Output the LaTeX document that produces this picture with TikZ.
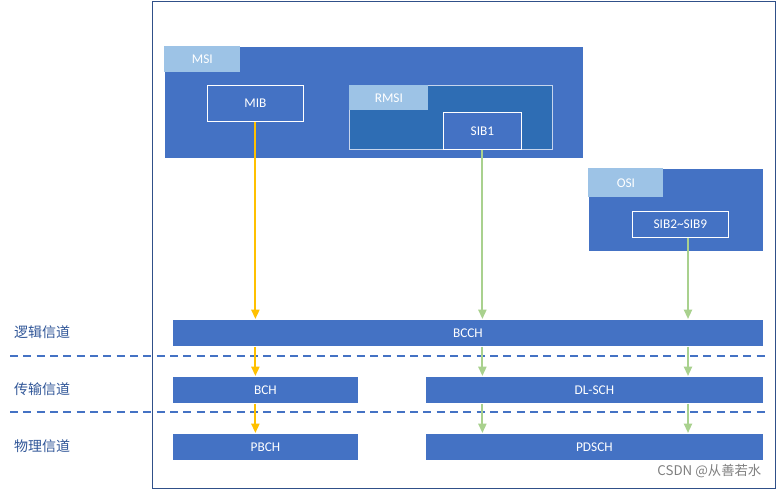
\documentclass[tikz,border=0pt]{standalone}
\usepackage{fontspec}
\setmainfont{Carlito}
\newfontfamily\cjk{Noto Sans CJK SC}
\usetikzlibrary{positioning,arrows.meta}
\definecolor{boxblue}{HTML}{4472C4}
\definecolor{darkblue}{HTML}{2E6DB4}
\definecolor{tabblue}{HTML}{9DC3E6}
\definecolor{arrYellow}{HTML}{FFC000}
\definecolor{arrGreen}{HTML}{A9D18E}
\definecolor{labblue}{HTML}{2F5597}
\begin{document}
\begin{tikzpicture}[x=0.75pt,y=-0.75pt,
	box/.style={draw=white,fill=boxblue,text=white,line width=0.6pt,anchor=north west,inner sep=0pt,font=\fontsize{10}{12}\selectfont},
	tab/.style={box,fill=tabblue,draw=none},
	yarr/.style={arrYellow,line width=1.5pt,-{Triangle[length=7pt,width=6pt]}},
	garr/.style={arrGreen,line width=1.5pt,-{Triangle[length=7pt,width=6pt]}},
	layer/.style={labblue,font=\cjk\fontsize{10.5}{12}\selectfont}]

	% Define the macro.
	% 1st argument: node name, 2nd-5th: corners, 6th: options, 7th: text
	\newcommand{\chanBox}[7]{
		\node[box,#6,minimum width={(#4-#2)*0.75pt},minimum height={(#5-#3)*0.75pt}] (#1) at (#2,#3) {#7};
	}

	\useasboundingbox (0,0) rectangle (777,490);
	\draw[boxblue!70!black,line width=0.6pt,fill=white] (152,1) rectangle (775,488);

	% SYSTEM INFORMATION
	\chanBox{msi}{164}{46}{583}{158}{}{}
	\chanBox{msitab}{164}{46}{240}{72}{tab}{MSI}
	\chanBox{mib}{207}{85}{303}{121}{}{MIB}
	\chanBox{rmsi}{349}{85}{552}{149}{fill=darkblue,draw=white!70!boxblue}{}
	\chanBox{rmsitab}{349}{85}{428}{110}{tab}{RMSI}
	\chanBox{sibone}{443}{112}{521}{149}{}{SIB1}
	\chanBox{osi}{588}{168}{763}{251}{}{}
	\chanBox{ositab}{588}{168}{663}{197}{tab}{OSI}
	\chanBox{sibrest}{632}{211}{728}{237}{}{SIB2\textasciitilde SIB9}

	% CHANNELS
	\chanBox{bcch}{172}{319}{763}{346}{}{BCCH}
	\chanBox{bch}{172}{376}{358}{403}{}{BCH}
	\chanBox{dlsch}{425}{376}{763}{403}{}{DL-SCH}
	\chanBox{pbch}{172}{433}{358}{460}{}{PBCH}
	\chanBox{pdsch}{425}{433}{763}{460}{}{PDSCH}

	\draw[boxblue,dashed,dash pattern=on 6pt off 4pt,line width=0.8pt] (10,356) -- (765,356);
	\draw[boxblue,dashed,dash pattern=on 6pt off 4pt,line width=0.8pt] (10,412) -- (765,412);

	\node[layer] (logic) at (42,332) {逻辑信道};
	\node[layer] (trans) at (42,389) {传输信道};
	\node[layer] (phys) at (42,446) {物理信道};

	% ARROWS
	\coordinate (gx) at (688,0);
	\draw[yarr] (mib.south) -- (mib.south |- bcch.north);
	\draw[yarr] (mib.south |- bcch.south) -- (mib.south |- bch.north);
	\draw[yarr] (mib.south |- bch.south) -- (mib.south |- pbch.north);
	\draw[garr] (sibone.south) -- (sibone.south |- bcch.north);
	\draw[garr] (sibone.south |- bcch.south) -- (sibone.south |- dlsch.north);
	\draw[garr] (sibone.south |- dlsch.south) -- (sibone.south |- pdsch.north);
	\draw[garr] (gx |- sibrest.south) -- (gx |- bcch.north);
	\draw[garr] (gx |- bcch.south) -- (gx |- dlsch.north);
	\draw[garr] (gx |- dlsch.south) -- (gx |- pdsch.north);

	\node[gray,font=\cjk\fontsize{10}{12}\selectfont,anchor=east] (mark) at (766,471) {CSDN @从善若水};
\end{tikzpicture}
\end{document}
